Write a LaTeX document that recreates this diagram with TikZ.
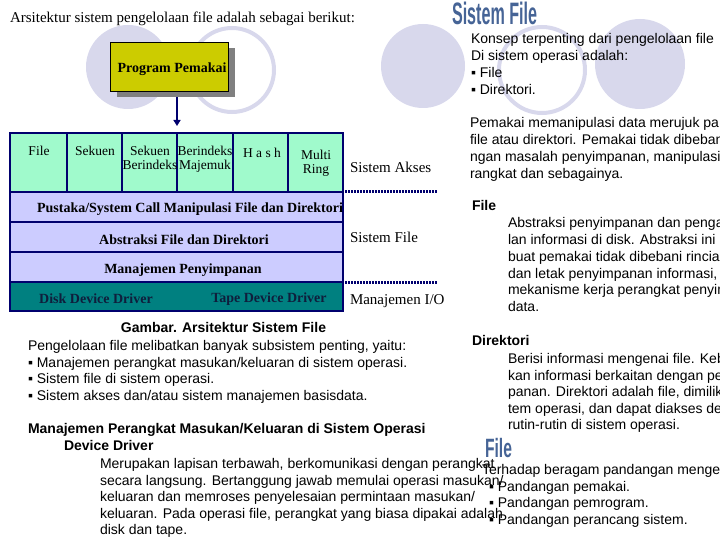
\documentclass[tikz,border=0pt]{standalone}
\usepackage{fontspec}
\setmainfont{Liberation Serif}
\setsansfont{Liberation Sans}
\usetikzlibrary{arrows.meta,calc,positioning}
\definecolor{discfill}{RGB}{216,216,236}
\definecolor{progyellow}{RGB}{204,204,0}
\definecolor{shadowgrey}{RGB}{128,128,128}
\definecolor{aksesgreen}{RGB}{160,250,204}
\definecolor{layerlav}{RGB}{204,204,255}
\definecolor{ioteal}{RGB}{0,128,128}
\definecolor{navyline}{RGB}{0,0,110}
\definecolor{logoblue}{RGB}{70,100,150}
\tikzset{
  every node/.style={inner sep=0pt, outer sep=0pt},
  disc/.style={fill=discfill},
  ring/.style={draw=discfill, line width=4pt},
  sertext/.style={font=\fontsize{15}{17}\selectfont, anchor=base west},
  celltext/.style={font=\fontsize{13.5}{15}\selectfont, anchor=base},
  layertext/.style={font=\bfseries\fontsize{14}{16}\selectfont, anchor=base},
  body/.style={font=\sffamily\fontsize{14}{16}\selectfont, anchor=base west},
  bodybold/.style={body, font=\sffamily\bfseries\fontsize{14}{16}\selectfont},
  logo/.style={text=logoblue, anchor=base west},
  cell/.style={draw=navyline, line width=1.5pt, anchor=north west},
  dotline/.style={draw=navyline, line width=3pt, dash pattern=on 1.5pt off 1.5pt},
  feed/.style={draw=navyline, line width=2pt, -{Triangle[length=6pt,width=7pt]}}
}

\begin{document}
\begin{tikzpicture}[x=1pt,y=-1pt]
  \useasboundingbox (0,0) rectangle (720,540);
  \clip (0,0) rectangle (720,540);

  % background discs
  \fill[disc] (128,67) circle[radius=42pt];
  \draw[ring] (232,70) circle[radius=42pt];
  \fill[disc] (423,66) circle[radius=42pt];
  \draw[ring] (542,70) circle[radius=43pt];
  \fill[disc] (640,64) circle[radius=45pt];

  \node[sertext] (judul) at (10,23) {Arsitektur sistem pengelolaan file adalah sebagai berikut:};
  \node[logo] (logo) at (452,25)
    {\sffamily\bfseries\fontsize{31}{31}\selectfont\scalebox{0.52}[1]{Sistem File}};

  % program pemakai
  \node[anchor=north west, fill=shadowgrey, minimum width=118pt, minimum height=49pt] (progshadow) at (117,48) {};
  \node[anchor=north west, fill=progyellow, draw=black, line width=0.8pt, minimum width=118pt, minimum height=49pt] (prog) at (110,42) {};
  \node[layertext] (progtext) at (172,73) {Program Pemakai};

  % sistem akses row
  \foreach \x/\w/\n in {10/57/1, 67/55/2, 122/55/3, 177/56/4, 233/55/5, 288/55/6}
    \node[cell, fill=aksesgreen, minimum width=\w pt, minimum height=59pt] (akses\n) at (\x,133) {};
  \node[celltext] (tfile) at (39,156) {File};
  \node[celltext] (tsekuen) at (95,156) {Sekuen};
  \node[celltext] (tsb1) at (150,156) {Sekuen};
  \node[celltext] (tsb2) at (150,170) {Berindeks};
  \node[celltext] (tbm1) at (205,156) {Berindeks};
  \node[celltext] (tbm2) at (205,170) {Majemuk};
  \node[celltext] (thash) at (262,158) {H a s h};
  \node[celltext] (tmr1) at (316,160) {Multi};
  \node[celltext] (tmr2) at (316,174) {Ring};

  % sistem file and I/O layers
  \node[cell, fill=layerlav, minimum width=333pt, minimum height=30pt] (pustaka) at (10,192) {};
  \node[cell, fill=layerlav, minimum width=333pt, minimum height=30pt] (abstraksi) at (10,222) {};
  \node[cell, fill=layerlav, minimum width=333pt, minimum height=30pt] (simpan) at (10,252) {};
  \node[cell, fill=ioteal, minimum width=333pt, minimum height=29pt] (iodrv) at (10,282) {};
  \draw[navyline, line width=2.2pt] (akses1.north west) rectangle (iodrv.south east);
  \node[layertext] (tpustaka) at (190,213) {Pustaka/System Call Manipulasi File dan Direktori};
  \node[layertext] (tabstraksi) at (184,244) {Abstraksi File dan Direktori};
  \node[layertext] (tsimpan) at (183,273) {Manajemen Penyimpanan};
  \node[layertext, text={rgb,255:red,15;green,30;blue,60}] (tdisk) at (96,303) {Disk Device Driver};
  \node[layertext, text={rgb,255:red,15;green,30;blue,60}] (ttape) at (269,302) {Tape Device Driver};

  \draw[feed] (progshadow.south -| akses4.north west) -- ([yshift=7pt]akses4.north west);

  \coordinate (aksesend) at (437,192);
  \coordinate (ioend) at (437,282);
  \draw[dotline] ([xshift=2pt]akses6.south east) -- (aksesend);
  \draw[dotline] ([xshift=2pt]iodrv.north east) -- (ioend);
  \node[sertext] (lakses) at (350,173) {Sistem Akses};
  \node[sertext] (lfile) at (350,243) {Sistem File};
  \node[sertext] (lio) at (350,304) {Manajemen I/O};

  % right column
  \foreach \t [count=\i from 0] in {{Konsep terpenting dari pengelolaan file},{Di sistem operasi adalah:},{▪ File},{▪ Direktori.}}
    \node[body] (konsep\i) at (471,44+16.7*\i) {\t};
  \foreach \t [count=\i from 0] in {{Pemakai memanipulasi data merujuk pa},{file atau direktori. Pemakai tidak dibeban},{ngan masalah penyimpanan, manipulasi},{rangkat dan sebagainya.}}
    \node[body] (pemakai\i) at (470,128+16.7*\i) {\t};
  \node[bodybold] (hfile) at (472,210.5) {File};
  \foreach \t [count=\i from 0] in {{Abstraksi penyimpanan dan penga},{lan informasi di disk. Abstraksi ini m},{buat pemakai tidak dibebani rincia},{dan letak penyimpanan informasi,},{mekanisme kerja perangkat penyim},{data.}}
    \node[body] (pfile\i) at (508,228+16.7*\i) {\t};
  \node[bodybold] (hdir) at (472,345) {Direktori};
  \foreach \t [count=\i from 0] in {{Berisi informasi mengenai file. Keb},{kan informasi berkaitan dengan pe},{panan. Direktori adalah file, dimilik},{tem operasi, dan dapat diakses de},{rutin-rutin di sistem operasi.}}
    \node[body] (pdir\i) at (508,363.5+16.5*\i) {\t};

  % left column, below the figure
  \node[bodybold, anchor=base] (caption) at (223.5,332) {Gambar. Arsitektur Sistem File};
  \foreach \t [count=\i from 0] in {{Pengelolaan file melibatkan banyak subsistem penting, yaitu:},{▪ Manajemen perangkat masukan/keluaran di sistem operasi.},{▪ Sistem file di sistem operasi.},{▪ Sistem akses dan/atau sistem manajemen basisdata.}}
    \node[body] (subsis\i) at (28,350.5+16.5*\i) {\t};
  \node[bodybold] (hio) at (28,433.5) {Manajemen Perangkat Masukan/Keluaran di Sistem Operasi};
  \node[bodybold] (hdrv) at (64,450.5) {Device Driver};
  \foreach \t [count=\i from 0] in {{Merupakan lapisan terbawah, berkomunikasi dengan perangkat},{secara langsung. Bertanggung jawab memulai operasi masukan/},{keluaran dan memroses penyelesaian permintaan masukan/},{keluaran. Pada operasi file, perangkat yang biasa dipakai adalah},{disk dan tape.}}
    \node[body] (pdrv\i) at (100,468.5+16.5*\i) {\t};

  % overlapping file view block
  \node[logo] (logofile) at (485,457)
    {\sffamily\bfseries\fontsize{26.5}{26.5}\selectfont\scalebox{0.59}[1]{File}};
  \node[body] (pandang) at (482,474) {Terhadap beragam pandangan menge};
  \foreach \t [count=\i from 0] in {{▪ Pandangan pemakai.},{▪ Pandangan pemrogram.},{▪ Pandangan perancang sistem.}}
    \node[body] (pandang\i) at (489,491+16.7*\i) {\t};
\end{tikzpicture}
\end{document}
